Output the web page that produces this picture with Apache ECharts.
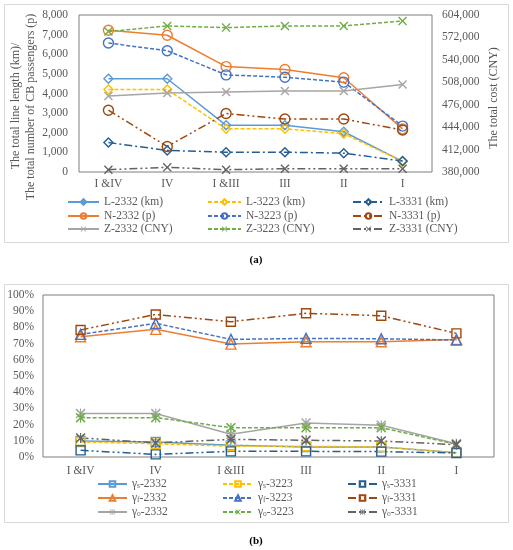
<!DOCTYPE html>
<html><head><meta charset="utf-8">
<script src="https://cdn.jsdelivr.net/npm/echarts@6/dist/echarts.min.js"></script>
<style>html,body{margin:0;padding:0;background:#fff}#c{width:513px;height:550px}</style>
</head><body><div id="c"></div>
<script>
const categories = ['I &IV', 'IV', 'I &III', 'III', 'II', 'I'];
// (a) left axis: km / passengers
const L2332 = [4750, 4750, 2380, 2380, 2050, 540];
const L3223 = [4200, 4200, 2200, 2200, 1950, 540];
const L3331 = [1500, 1100, 1010, 1010, 960, 560];
const N2332 = [7220, 6970, 5370, 5220, 4800, 2200];
const N3223 = [6570, 6180, 4950, 4830, 4580, 2340];
const N3331 = [3150, 1300, 2980, 2700, 2700, 2140];
// (a) right axis: cost (CNY)
const Z2332 = [488500, 492700, 494100, 495500, 495500, 505000];
const Z3223 = [580400, 588400, 586000, 588400, 588400, 595500];
const Z3331 = [383300, 386600, 383300, 384700, 384700, 384700];
const costTicks = [380000, 412000, 444000, 476000, 508000, 540000, 572000, 604000];
// (b) ratios
const Gs2332 = [0.099, 0.093, 0.072, 0.062, 0.062, 0.027];
const Gs3223 = [0.093, 0.082, 0.066, 0.066, 0.062, 0.027];
const Gs3331 = [0.041, 0.016, 0.035, 0.035, 0.033, 0.025];
const Gf2332 = [0.742, 0.788, 0.697, 0.711, 0.711, 0.726];
const Gf3223 = [0.757, 0.825, 0.726, 0.732, 0.730, 0.722];
const Gf3331 = [0.784, 0.880, 0.835, 0.887, 0.872, 0.763];
const Go2332 = [0.268, 0.268, 0.140, 0.210, 0.196, 0.082];
const Go3223 = [0.243, 0.243, 0.181, 0.181, 0.181, 0.078];
const Go3331 = [0.118, 0.087, 0.109, 0.103, 0.099, 0.076];

const FONT = "'Liberation Serif','Times New Roman',serif";
const TXT = '#595959';
const DASH = [4, 2], DDOT = [8, 3, 2, 3], DDD = [8, 3, 2, 3, 2, 3];
const XSYM = 'path://M0,1.1L1.1,0L5,3.9L8.9,0L10,1.1L6.1,5L10,8.9L8.9,10L5,6.1L1.1,10L0,8.9L3.9,5Z';
const ASYM = 'path://M0,1.1L1.1,0L5,3.9L8.9,0L10,1.1L6.1,5L10,8.9L8.9,10L5,6.1L1.1,10L0,8.9L3.9,5Z M4.45,0L5.55,0L5.55,10L4.45,10Z';

function S(name, data, color, dash, symbol, size, xi, yi, filled) {
  return {
    name, type: 'line', data, xAxisIndex: xi, yAxisIndex: yi,
    symbol, symbolSize: size, showSymbol: true,
    lineStyle: { color, width: 1.5, type: dash },
    itemStyle: filled ? { color, borderWidth: 0 } : { color: 'rgba(255,255,255,0)', borderColor: color, borderWidth: 1.4 },
    emphasis: { disabled: true }, animation: false, z: 3
  };
}

const series = [
  S('L-2332 (km)', L2332, '#5B9BD5', 'solid', 'diamond', 9, 0, 0),
  S('L-3223 (km)', L3223, '#FFC000', DASH, 'diamond', 9, 0, 0),
  S('L-3331 (km)', L3331, '#255E91', DDOT, 'diamond', 9, 0, 0),
  S('N-2332 (p)', N2332, '#ED7D31', 'solid', 'circle', 10, 0, 0),
  S('N-3223 (p)', N3223, '#4472C4', DASH, 'circle', 10, 0, 0),
  S('N-3331 (p)', N3331, '#9E480E', DDD, 'circle', 10, 0, 0),
  S('Z-2332 (CNY)', Z2332, '#A5A5A5', 'solid', XSYM, 9, 0, 1, true),
  S('Z-3223 (CNY)', Z3223, '#70AD47', DASH, XSYM, 9, 0, 1, true),
  S('Z-3331 (CNY)', Z3331, '#636363', DDD, XSYM, 9, 0, 1, true),
  S('γs-2332', Gs2332, '#5B9BD5', 'solid', 'rect', 9, 1, 2),
  S('γs-3223', Gs3223, '#FFC000', DASH, 'rect', 9, 1, 2),
  S('γs-3331', Gs3331, '#255E91', DDD, 'rect', 9, 1, 2),
  S('γf-2332', Gf2332, '#ED7D31', 'solid', 'triangle', 10, 1, 2),
  S('γf-3223', Gf3223, '#4472C4', DASH, 'triangle', 10, 1, 2),
  S('γf-3331', Gf3331, '#9E480E', DDD, 'rect', 9, 1, 2),
  S('γo-2332', Go2332, '#A5A5A5', 'solid', ASYM, 10, 1, 2, true),
  S('γo-3223', Go3223, '#70AD47', DASH, ASYM, 10, 1, 2, true),
  S('γo-3331', Go3331, '#636363', DDD, ASYM, 10, 1, 2, true)
];

const legends = [];
function LG(name, left, top, w, gamma) {
  const l = {
    data: [name], left, top, itemWidth: w, itemHeight: 7, padding: 0, itemGap: 0,
    selectedMode: false,
    textStyle: { fontFamily: FONT, fontSize: 11.5, color: TXT, lineHeight: 14 }
  };
  if (gamma) {
    l.formatter = n => '{b|γ}{s|' + n.charAt(1) + '}{b|' + n.slice(2) + '}';
    l.textStyle.rich = {
      b: { fontFamily: FONT, fontSize: 11.5, color: TXT, lineHeight: 14 },
      s: { fontFamily: FONT, fontSize: 7.5, color: TXT, lineHeight: 14, padding: [5, 0, 0, 0] }
    };
  }
  legends.push(l);
}
const topRows = [195, 209, 222];
const topCols = [[67, 31], [207, 33], [352, 31]];
[['L-2332 (km)', 'L-3223 (km)', 'L-3331 (km)'],
 ['N-2332 (p)', 'N-3223 (p)', 'N-3331 (p)'],
 ['Z-2332 (CNY)', 'Z-3223 (CNY)', 'Z-3331 (CNY)']].forEach((row, r) =>
  row.forEach((n, c) => LG(n, topCols[c][0], topRows[r], topCols[c][1], false)));
const botRows = [477, 491, 505];
const botCols = [[97, 29], [222, 30], [347, 29]];
[['γs-2332', 'γs-3223', 'γs-3331'],
 ['γf-2332', 'γf-3223', 'γf-3331'],
 ['γo-2332', 'γo-3223', 'γo-3331']].forEach((row, r) =>
  row.forEach((n, c) => LG(n, botCols[c][0], botRows[r], botCols[c][1], true)));

const lab = { fontFamily: FONT, fontSize: 11.5, color: TXT };
const chart = echarts.init(document.getElementById('c'), null, { renderer: 'canvas' });
chart.setOption({
  animation: false,
  backgroundColor: '#fff',
  grid: [
    { left: 79, top: 15, width: 353, height: 157, show: true, borderColor: '#7f7f7f', borderWidth: 1, backgroundColor: 'transparent' },
    { left: 43, top: 295, width: 451, height: 162, show: true, borderColor: '#7f7f7f', borderWidth: 1, backgroundColor: 'transparent' }
  ],
  xAxis: [
    { gridIndex: 0, type: 'category', data: categories, boundaryGap: true, axisLine: { show: false }, axisTick: { show: false }, axisLabel: Object.assign({ margin: 6, interval: 0 }, lab) },
    { gridIndex: 1, type: 'category', data: categories, boundaryGap: true, axisLine: { show: false }, axisTick: { show: false }, axisLabel: Object.assign({ margin: 8, interval: 0 }, lab) }
  ],
  yAxis: [
    { gridIndex: 0, type: 'value', min: 0, max: 8000, interval: 1000, splitLine: { show: false }, axisLine: { show: false }, axisTick: { show: false }, axisLabel: Object.assign({ margin: 11 }, lab) },
    { gridIndex: 0, type: 'value', position: 'right', min: 380000, max: 604000, splitLine: { show: false }, axisLine: { show: false }, axisTick: { show: false },
      axisLabel: Object.assign({ margin: 10, customValues: costTicks, formatter: v => v.toLocaleString('en-US') }, lab) },
    { gridIndex: 1, type: 'value', min: 0, max: 1, interval: 0.1, splitLine: { show: false }, axisLine: { show: false }, axisTick: { show: false },
      axisLabel: Object.assign({ margin: 9, formatter: v => Math.round(v * 100) + '%' }, lab) }
  ],
  legend: legends,
  series,
  graphic: [
    { type: 'rect', shape: { x: 4.5, y: 4.5, width: 504, height: 238 }, style: { fill: 'none', stroke: '#d9d9d9', lineWidth: 1 }, z: -1 },
    { type: 'rect', shape: { x: 4.5, y: 284.5, width: 504, height: 238 }, style: { fill: 'none', stroke: '#d9d9d9', lineWidth: 1 }, z: -1 },
    { type: 'text', x: 16, y: 106, rotation: Math.PI / 2, style: { text: 'The total line length (km)/', fontFamily: FONT, fontSize: 12, fill: TXT, align: 'center', verticalAlign: 'middle' } },
    { type: 'text', x: 31, y: 107, rotation: Math.PI / 2, style: { text: 'The total number of CB passengers (p)', fontFamily: FONT, fontSize: 12, fill: TXT, align: 'center', verticalAlign: 'middle' } },
    { type: 'text', x: 494, y: 98, rotation: Math.PI / 2, style: { text: 'The total cost (CNY)', fontFamily: FONT, fontSize: 12, fill: TXT, align: 'center', verticalAlign: 'middle' } },
    { type: 'text', x: 256, y: 260, style: { text: '(a)', fontFamily: FONT, fontSize: 11, fontWeight: 'bold', fill: '#000', align: 'center', verticalAlign: 'middle' } },
    { type: 'text', x: 256, y: 541, style: { text: '(b)', fontFamily: FONT, fontSize: 11, fontWeight: 'bold', fill: '#000', align: 'center', verticalAlign: 'middle' } }
  ]
});
</script></body></html>
